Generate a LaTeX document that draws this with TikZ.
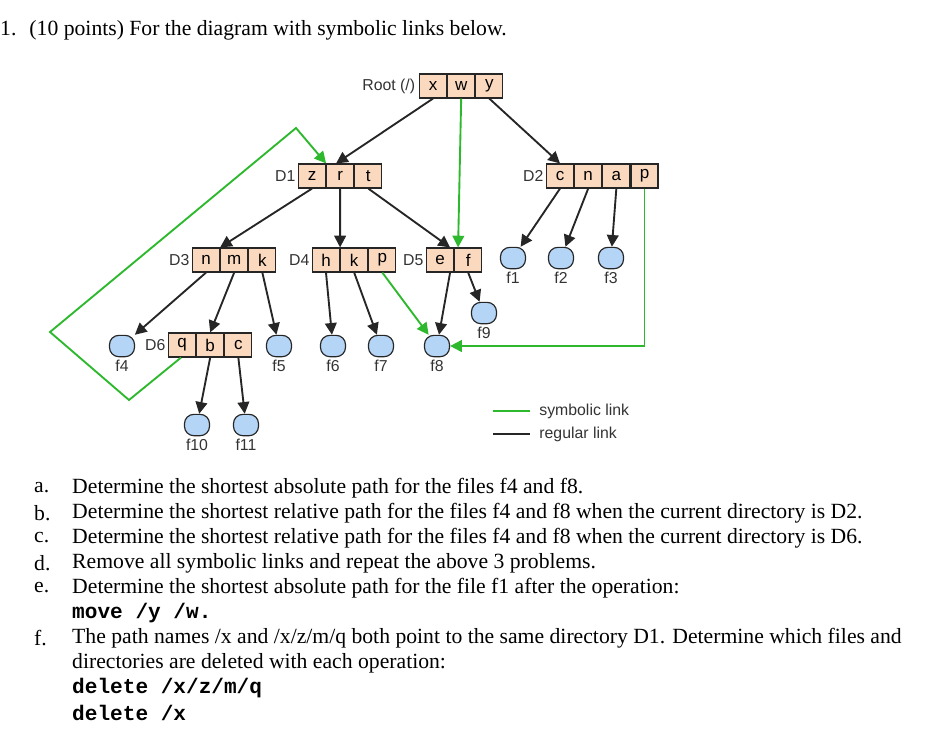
\documentclass[tikz,border=0pt]{standalone}
\usepackage{fontspec}
\setmainfont{Liberation Serif}
\newfontfamily\diagfont{Liberation Sans}
\newfontfamily\codefont{Liberation Mono}
\usetikzlibrary{positioning,arrows.meta}

\definecolor{cellfill}{HTML}{FAD9BE}
\definecolor{filefill}{HTML}{B5D5F7}
\definecolor{symgreen}{HTML}{2DB82D}

\tikzset{
  cell/.style={draw=black!85, line width=1pt, fill=cellfill, inner sep=0pt,
    minimum width=0.81cm, minimum height=0.72cm, font=\diagfont\fontsize{14.5}{14.5}\selectfont},
  file/.style={draw=black!85, line width=1pt, fill=filefill, rounded corners=0.28cm,
    minimum width=0.75cm, minimum height=0.64cm, inner sep=0pt},
  lbl/.style={font=\diagfont\fontsize{13.5}{13.5}\selectfont, text=black!80, inner sep=1pt},
  reg/.style={draw=black!85, line width=1.6pt, -{Triangle[length=10pt,width=10pt]}},
  sym/.style={draw=symgreen, line width=1.6pt, -{Triangle[length=10pt,width=10pt]}},
  txt/.style={anchor=west, inner sep=0pt, font=\fontsize{18.5}{22}\selectfont},
  code/.style={anchor=west, inner sep=0pt, font=\codefont\bfseries\fontsize{18}{22}\selectfont}
}

\begin{document}
\begin{tikzpicture}[x=0.03cm, y=-0.03cm]
   \useasboundingbox (0,0) rectangle (946,746);

   % directories
   \node[cell] (Rx) at (433,86) {x};
   \node[cell, right=0pt of Rx] (Rw) {w};
   \node[cell, right=0pt of Rw] (Ry) {y};
   \node[lbl, left=2pt of Rx] {Root (/)};

   \node[cell] (D1z) at (312,176) {z};
   \node[cell, right=0pt of D1z] (D1r) {r};
   \node[cell, right=0pt of D1r] (D1t) {t};
   \node[lbl, left=1pt of D1z] {D1};

   \node[cell] (D2c) at (560,176) {c};
   \node[cell, right=0pt of D2c] (D2n) {n};
   \node[cell, right=0pt of D2n] (D2a) {a};
   \node[cell, right=0pt of D2a] (D2p) {p};
   \node[lbl, left=1pt of D2c] {D2};

   \node[cell] (D3n) at (206,260) {n};
   \node[cell, right=0pt of D3n] (D3m) {m};
   \node[cell, right=0pt of D3m] (D3k) {k};
   \node[lbl, left=1pt of D3n] {D3};

   \node[cell] (D4h) at (326,260) {h};
   \node[cell, right=0pt of D4h] (D4k) {k};
   \node[cell, right=0pt of D4k] (D4p) {p};
   \node[lbl, left=1pt of D4h] {D4};

   \node[cell] (D5e) at (440,260) {e};
   \node[cell, right=0pt of D5e] (D5f) {f};
   \node[lbl, left=1pt of D5e] {D5};

   \node[cell] (D6q) at (182,345) {q};
   \node[cell, right=0pt of D6q] (D6b) {b};
   \node[cell, right=0pt of D6b] (D6c) {c};
   \node[lbl, left=1pt of D6q] {D6};

   % files
   \foreach \name/\px/\py in {f1/513/258, f2/561/258, f3/611/258, f4/122/346, f5/279/346,
       f6/333/346, f7/381/346, f8/437/346, f9/484/313, f10/197/425, f11/246/425} {
     \node[file] (\name) at (\px,\py) {};
     \node[lbl, below=1pt of \name] {\name};
   }

   % regular links
   \draw[reg] (Rx.south) -- ([xshift=0.3cm]D1r.north west);
   \draw[reg] (Ry.south) -- (D2c.north);
   \draw[reg] (D1z.south) -- (D3m.north west);
   \draw[reg] (D1r.south) -- (D4h.north east);
   \draw[reg] (D1t.south) -- ([xshift=-0.12cm]D5e.north east);
   \draw[reg] (D2c.south) -- (f1);
   \draw[reg] (D2n.south) -- (f2);
   \draw[reg] (D2a.south) -- (f3);
   \draw[reg] (D3n.south) -- (f4);
   \draw[reg] (D3m.south) -- (D6b.north);
   \draw[reg] (D3k.south) -- (f5);
   \draw[reg] (D4h.south) -- (f6);
   \draw[reg] (D4k.south) -- (f7);
   \draw[reg] ([xshift=-0.12cm]D5e.south east) -- (f8);
   \draw[reg] (D5f.south) -- (f9);
   \draw[reg] (D6b.south) -- (f10);
   \draw[reg] (D6c.south) -- (f11);

   % symbolic links
   \coordinate (g1) at (129,400);
   \coordinate (g2) at (50,332);
   \coordinate (g3) at (296,128);
   \draw[sym] ([xshift=-0.03cm]D6q.south) -- (g1) -- (g2) -- (g3) -- (D1z.north east);
   \draw[sym] (Rw.south) -- ([xshift=0.12cm]D5f.north west);
   \draw[sym] (D4p.south) -- (f8);
   \draw[sym] (D2p.south) |- (f8);

   % legend
   \coordinate (l1) at (493,411); \coordinate (l2) at (530,411);
   \coordinate (l3) at (493,434); \coordinate (l4) at (530,434);
   \draw[symgreen, line width=1.6pt] (l1) -- (l2);
   \draw[black!85, line width=1.6pt] (l3) -- (l4);
   \node[lbl, anchor=west] at (538,411) {symbolic link};
   \node[lbl, anchor=west] at (538,434) {regular link};

   % question text
   \node[txt] at (0,30) {1.\hspace{0.6em}(10 points) For the diagram with symbolic links below.};
   \node[txt] at (34,488) {a.};
   \node[txt] at (72,488) {Determine the shortest absolute path for the files f4 and f8.};
   \node[txt] at (34,513) {b.};
   \node[txt] at (72,513) {Determine the shortest relative path for the files f4 and f8 when the current directory is D2.};
   \node[txt] at (34,538) {c.};
   \node[txt] at (72,538) {Determine the shortest relative path for the files f4 and f8 when the current directory is D6.};
   \node[txt] at (34,563) {d.};
   \node[txt] at (72,563) {Remove all symbolic links and repeat the above 3 problems.};
   \node[txt] at (34,588) {e.};
   \node[txt] at (72,588) {Determine the shortest absolute path for the file f1 after the operation:};
   \node[code] at (72,613) {move /y /w.};
   \node[txt] at (34,638) {f.};
   \node[txt] at (72,638) {The path names /x and /x/z/m/q both point to the same directory D1. Determine which files and};
   \node[txt] at (72,663) {directories are deleted with each operation:};
   \node[code] at (72,688) {delete /x/z/m/q};
   \node[code] at (72,713) {delete /x};
\end{tikzpicture}
\end{document}
